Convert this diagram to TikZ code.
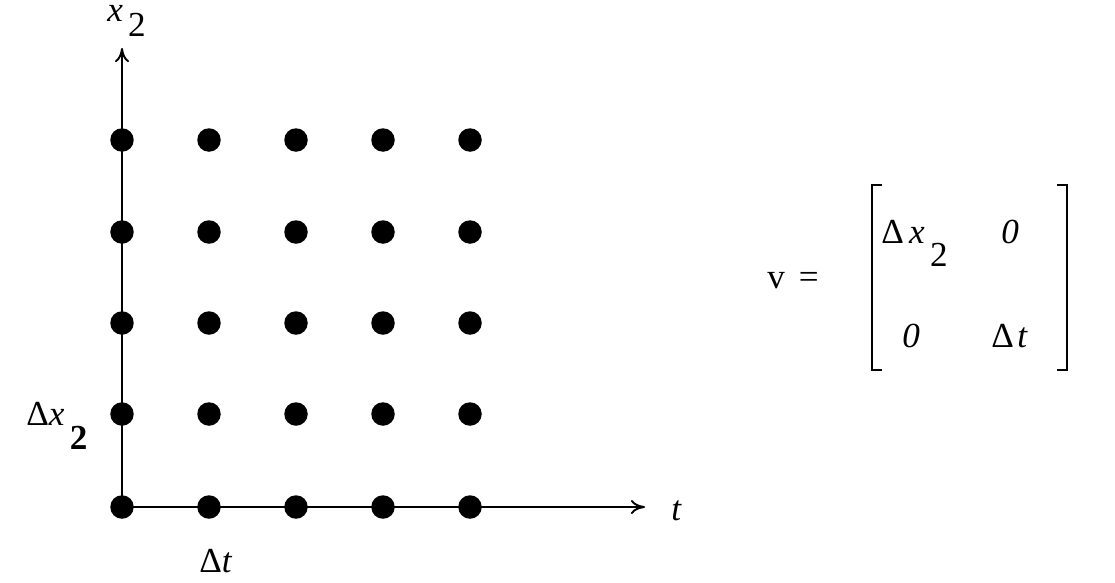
\documentclass[tikz,border=0pt]{standalone}
\usepackage{fontspec}
\setmainfont{Liberation Serif}
\usepackage{tikz}
\usetikzlibrary{arrows.meta}
\tikzstyle{point}=[circle, fill, inner sep=0pt, minimum size=0.47cm]
\tikzstyle{sym}=[inner sep=0pt, anchor=base west, font=\fontsize{20}{24}\selectfont]
\tikzstyle{axis}=[line width=1.1pt, -{To[length=8pt,width=8pt]}]
\tikzstyle{bracket}=[line width=1.1pt]

\begin{document}
\begin{tikzpicture}[x=0.02cm, y=-0.02cm]
		   \useasboundingbox (0,0) rectangle (1115,582);
		   \begin{scope}
			   % lattice of points, columns a..e, rows 1..5 from the bottom
			   \node (a1) at (122, 507)[point] {};
			   \node (a2) at (122, 414)[point] {};
			   \node (a3) at (122, 323)[point] {};
			   \node (a4) at (122, 232)[point] {};
			   \node (a5) at (122, 140)[point] {};

			   \node (b1) at (209, 507)[point] {};
			   \node (b2) at (209, 414)[point] {};
			   \node (b3) at (209, 323)[point] {};
			   \node (b4) at (209, 232)[point] {};
			   \node (b5) at (209, 140)[point] {};

			   \node (c1) at (296, 507)[point] {};
			   \node (c2) at (296, 414)[point] {};
			   \node (c3) at (296, 323)[point] {};
			   \node (c4) at (296, 232)[point] {};
			   \node (c5) at (296, 140)[point] {};

			   \node (d1) at (383, 507)[point] {};
			   \node (d2) at (383, 414)[point] {};
			   \node (d3) at (383, 323)[point] {};
			   \node (d4) at (383, 232)[point] {};
			   \node (d5) at (383, 140)[point] {};

			   \node (e1) at (470, 507)[point] {};
			   \node (e2) at (470, 414)[point] {};
			   \node (e3) at (470, 323)[point] {};
			   \node (e4) at (470, 232)[point] {};
			   \node (e5) at (470, 140)[point] {};

			   \coordinate (top) at (122, 48);
			   \coordinate (right) at (645, 507);

			   % axis labels
			   \node (xlab) at (107, 21)[sym] {\textit{x}\hspace{3pt}\raisebox{-9pt}{2}};
			   \node (tlab) at (671, 520)[sym] {\textit{t}};
			   \node (dxlab) at (26, 425)[sym] {Δ\textit{x}\hspace{3pt}\raisebox{-14pt}{\textbf{2}}};
			   \node (dtlab) at (199, 572)[sym] {Δ\textit{t}};

			   % the matrix
			   \node (vlab) at (767, 288)[sym] {v\hspace{8pt}=};
			   \node (m11) at (881, 243)[sym] {Δ\hspace{3pt}\textit{x}\hspace{3pt}\raisebox{-13.6pt}{2}};
			   \node (m12) at (1001, 243)[sym] {\textit{0}};
			   \node (m21) at (902, 347)[sym] {\textit{0}};
			   \node (m22) at (991, 347)[sym] {Δ\hspace{2pt}\textit{t}};
		   \end{scope}
		   \begin{scope}
			   \path [axis] (a1.center) edge (top);
			   \path [axis] (a1.center) edge (right);

			   \draw [bracket] (882, 185) -- (872, 185) -- (872, 370) -- (882, 370);
			   \draw [bracket] (1057, 185) -- (1067, 185) -- (1067, 370) -- (1057, 370);
		   \end{scope}
	   \end{tikzpicture}
\end{document}
